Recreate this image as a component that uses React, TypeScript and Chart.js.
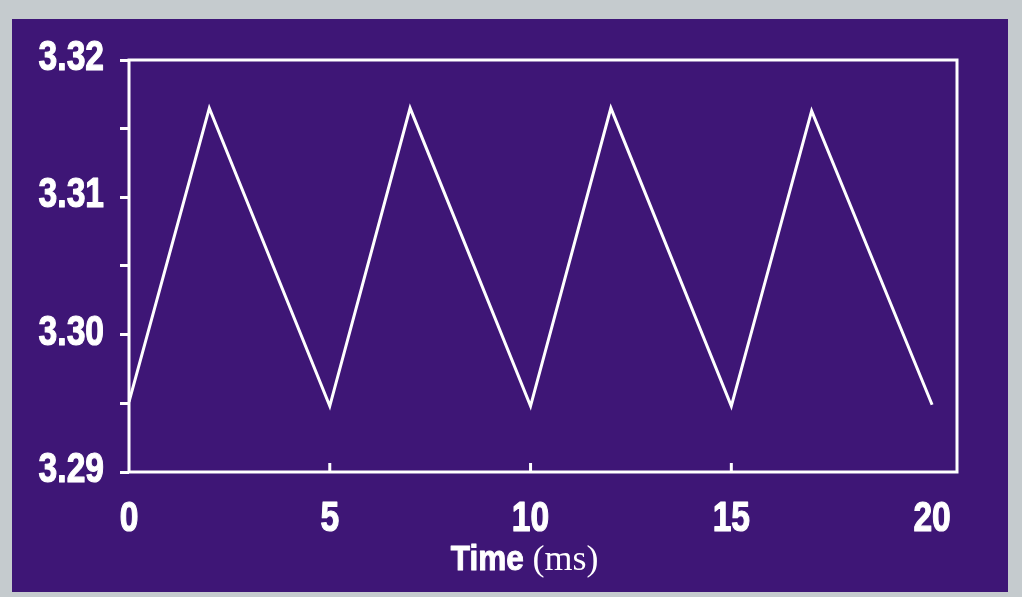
import { useEffect, useRef } from 'react';
import { Chart, registerables } from 'chart.js';

Chart.register(...registerables);

// waveform (ms, V)
const timeMs = [0, 2, 5, 7, 10, 12, 15, 17, 20];
const voltage = [3.2951, 3.3165, 3.2948, 3.3165, 3.2948, 3.3165, 3.2948, 3.3163, 3.2949];

const yTickValues = [3.29, 3.295, 3.3, 3.305, 3.31, 3.315, 3.32];
const yTickLabels = ['3.29', '', '3.30', '', '3.31', '', '3.32'];
const xTickValues = [0, 5, 10, 15, 20];
const xTickLabels = ['0', '5', '10', '15', '20'];
const xInnerTicks = [5, 10, 15];

const SANS = '"Liberation Sans", Arial, sans-serif';
const SERIF = '"Liberation Serif", "DejaVu Serif", serif';

// draw text squeezed horizontally (and a touch heavier), close to a condensed bold face
function narrowText(ctx: CanvasRenderingContext2D, text: string, x: number, y: number, align: CanvasTextAlign, font: string, sx: number, weight = 0) {
  ctx.save();
  ctx.translate(x, y);
  ctx.scale(sx, 1);
  ctx.font = font;
  ctx.textAlign = align;
  ctx.textBaseline = 'alphabetic';
  ctx.fillText(text, 0, 0);
  if (weight > 0) {
    ctx.lineWidth = weight;
    ctx.strokeStyle = '#ffffff';
    ctx.lineJoin = 'round';
    ctx.strokeText(text, 0, 0);
  }
  ctx.restore();
}

const frame = {
  id: 'frame',
  beforeDatasetsDraw(chart: any) {
    const { ctx, chartArea } = chart;
    const x = chart.scales.x;
    ctx.save();
    ctx.strokeStyle = '#ffffff';
    ctx.lineWidth = 3;
    ctx.strokeRect(chartArea.left, chartArea.top, chartArea.right - chartArea.left, chartArea.bottom - chartArea.top);
    xInnerTicks.forEach(v => {
      const px = x.getPixelForValue(v);
      ctx.beginPath();
      ctx.moveTo(px, chartArea.bottom);
      ctx.lineTo(px, chartArea.bottom - 9);
      ctx.stroke();
    });
    ctx.restore();
  },
  afterDraw(chart: any) {
    const { ctx, chartArea } = chart;
    const x = chart.scales.x;
    const y = chart.scales.y;
    ctx.save();
    ctx.fillStyle = '#ffffff';
    const tickFont = `bold 42px ${SANS}`;
    yTickValues.forEach((v, i) => {
      if (yTickLabels[i]) {
        narrowText(ctx, yTickLabels[i], chartArea.left - 25, y.getPixelForValue(v) + 10, 'right', tickFont, 0.8, 1.2);
      }
    });
    xTickValues.forEach((v, i) => {
      narrowText(ctx, xTickLabels[i], x.getPixelForValue(v), chartArea.bottom + 59, 'center', tickFont, 0.8, 1.2);
    });

    // axis title: "Time" in bold sans, "(ms)" in a serif
    const boldFont = `bold 35px ${SANS}`;
    const serifFont = `36px ${SERIF}`;
    const sx = 0.9;
    ctx.font = boldFont;
    const w1 = ctx.measureText('Time ').width * sx;
    ctx.font = serifFont;
    const w2 = ctx.measureText('(ms)').width;
    const left = x.getPixelForValue(10) - 6 - (w1 + w2) / 2;
    const baseY = chartArea.bottom + 98;
    narrowText(ctx, 'Time ', left, baseY, 'left', boldFont, sx, 1);
    narrowText(ctx, '(ms)', left + w1, baseY, 'left', serifFont, 1);
    ctx.restore();
  },
};

export default function App() {
  const chartRef = useRef<HTMLCanvasElement>(null);
  const chartInstance = useRef<Chart | null>(null);

  useEffect(() => {
    document.body.style.margin = '0';
    if (chartRef.current) {
      const ctx = chartRef.current.getContext('2d');
      if (ctx) {
        chartInstance.current = new Chart(ctx, {
          type: 'line',
          data: {
            datasets: [{
              label: 'Voltage',
              data: timeMs.map((t, i) => ({ x: t, y: voltage[i] })),
              borderColor: '#ffffff',
              borderWidth: 3,
              borderJoinStyle: 'miter',
              pointRadius: 0,
              tension: 0,
              fill: false
            }]
          },
          options: {
            animation: false,
            responsive: true,
            maintainAspectRatio: false,
            layout: { padding: { top: 41, right: 51, left: 0, bottom: 0 } },
            plugins: {
              legend: { display: false },
              tooltip: { enabled: false }
            },
            scales: {
              x: {
                type: 'linear',
                min: 0,
                max: 20.62,
                afterBuildTicks: (scale: any) => {
                  scale.ticks = xTickValues.map(v => ({ value: v }));
                },
                afterFit: (scale: any) => { scale.height = 120; },
                grid: { display: false, drawTicks: false },
                border: { display: false },
                ticks: { display: false }
              },
              y: {
                min: 3.29,
                max: 3.32,
                afterBuildTicks: (scale: any) => {
                  scale.ticks = yTickValues.map(v => ({ value: v }));
                },
                afterFit: (scale: any) => { scale.width = 117; },
                grid: {
                  drawOnChartArea: false,
                  drawTicks: true,
                  tickLength: 9,
                  color: '#ffffff',
                  lineWidth: 3
                },
                border: { display: false },
                ticks: { display: false }
              }
            }
          },
          plugins: [frame]
        });
      }
    }
    return () => {
      chartInstance.current?.destroy();
    };
  }, []);

  return (
    <div style={{ position: 'fixed', left: 0, top: 0, width: 1022, height: 597, background: '#c5cbce' }}>
      <div style={{ position: 'absolute', left: 12, top: 19, width: 996, height: 573, background: '#3e1676' }}>
        <canvas ref={chartRef}></canvas>
      </div>
    </div>
  );
}
